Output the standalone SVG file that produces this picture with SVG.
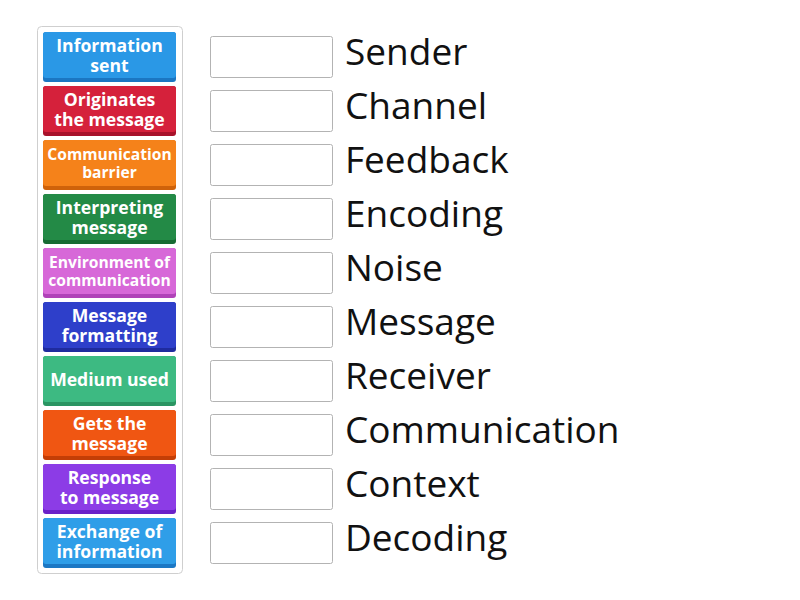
<svg xmlns="http://www.w3.org/2000/svg" width="800" height="600" viewBox="0 0 800 600">
<style>
.tile text{font-family:"Open Sans","Liberation Sans",sans-serif;font-weight:bold;fill:#fff;text-anchor:middle;font-size:17.6px}
.tile .sm{font-size:15.6px}
.box{fill:#fff;stroke:#b3b3b3;stroke-width:1}
.lbl{font-family:"Open Sans","Liberation Sans",sans-serif;font-size:37px;fill:#111}
</style>
<rect width="800" height="600" fill="#fff"/>
<rect x="37.5" y="26.5" width="145" height="547" rx="4" fill="#fff" stroke="#cfcfcf"/>
<g id="tiles">
<g id="t1" class="tile"><rect x="43" y="32" width="133" height="50" rx="3" fill="#1b76c2"/><rect x="43" y="32" width="133" height="46" rx="3" fill="#2a98e6"/><text x="109.5" y="52">Information</text><text x="109.5" y="72">sent</text></g>
<g id="t2" class="tile"><rect x="43" y="86" width="133" height="50" rx="3" fill="#a8122b"/><rect x="43" y="86" width="133" height="46" rx="3" fill="#d5213b"/><text x="109.5" y="106">Originates</text><text x="109.5" y="126">the message</text></g>
<g id="t3" class="tile"><rect x="43" y="140" width="133" height="50" rx="3" fill="#cf620a"/><rect x="43" y="140" width="133" height="46" rx="3" fill="#f5821a"/><text class="sm" x="109.5" y="160">Communication</text><text class="sm" x="109.5" y="178">barrier</text></g>
<g id="t4" class="tile"><rect x="43" y="194" width="133" height="50" rx="3" fill="#176a33"/><rect x="43" y="194" width="133" height="46" rx="3" fill="#238a46"/><text x="109.5" y="214">Interpreting</text><text x="109.5" y="234">message</text></g>
<g id="t5" class="tile"><rect x="43" y="248" width="133" height="50" rx="3" fill="#b042b8"/><rect x="43" y="248" width="133" height="46" rx="3" fill="#d768d8"/><text class="sm" x="109.5" y="268">Environment of</text><text class="sm" x="109.5" y="286">communication</text></g>
<g id="t6" class="tile"><rect x="43" y="302" width="133" height="50" rx="3" fill="#1f2b9e"/><rect x="43" y="302" width="133" height="46" rx="3" fill="#2e3fca"/><text x="109.5" y="322">Message</text><text x="109.5" y="342">formatting</text></g>
<g id="t7" class="tile"><rect x="43" y="356" width="133" height="50" rx="3" fill="#2a9562"/><rect x="43" y="356" width="133" height="46" rx="3" fill="#3dba82"/><text x="109.5" y="386">Medium used</text></g>
<g id="t8" class="tile"><rect x="43" y="410" width="133" height="50" rx="3" fill="#c43e06"/><rect x="43" y="410" width="133" height="46" rx="3" fill="#f05612"/><text x="109.5" y="430">Gets the</text><text x="109.5" y="450">message</text></g>
<g id="t9" class="tile"><rect x="43" y="464" width="133" height="50" rx="3" fill="#6a20c8"/><rect x="43" y="464" width="133" height="46" rx="3" fill="#8c3ce6"/><text x="109.5" y="484">Response</text><text x="109.5" y="504">to message</text></g>
<g id="t10" class="tile"><rect x="43" y="518" width="133" height="50" rx="3" fill="#1c78c4"/><rect x="43" y="518" width="133" height="46" rx="3" fill="#2f9ee8"/><text x="109.5" y="538">Exchange of</text><text x="109.5" y="558">information</text></g>
</g>
<g id="answers">
<g id="a1"><rect class="box" x="210.5" y="36.5" width="122" height="41" rx="2"/><text class="lbl" x="345" y="65">Sender</text></g>
<g id="a2"><rect class="box" x="210.5" y="90.5" width="122" height="41" rx="2"/><text class="lbl" x="345" y="119">Channel</text></g>
<g id="a3"><rect class="box" x="210.5" y="144.5" width="122" height="41" rx="2"/><text class="lbl" x="345" y="173">Feedback</text></g>
<g id="a4"><rect class="box" x="210.5" y="198.5" width="122" height="41" rx="2"/><text class="lbl" x="345" y="227">Encoding</text></g>
<g id="a5"><rect class="box" x="210.5" y="252.5" width="122" height="41" rx="2"/><text class="lbl" x="345" y="281">Noise</text></g>
<g id="a6"><rect class="box" x="210.5" y="306.5" width="122" height="41" rx="2"/><text class="lbl" x="345" y="335">Message</text></g>
<g id="a7"><rect class="box" x="210.5" y="360.5" width="122" height="41" rx="2"/><text class="lbl" x="345" y="389">Receiver</text></g>
<g id="a8"><rect class="box" x="210.5" y="414.5" width="122" height="41" rx="2"/><text class="lbl" x="345" y="443">Communication</text></g>
<g id="a9"><rect class="box" x="210.5" y="468.5" width="122" height="41" rx="2"/><text class="lbl" x="345" y="497">Context</text></g>
<g id="a10"><rect class="box" x="210.5" y="522.5" width="122" height="41" rx="2"/><text class="lbl" x="345" y="551">Decoding</text></g>
</g>
</svg>
